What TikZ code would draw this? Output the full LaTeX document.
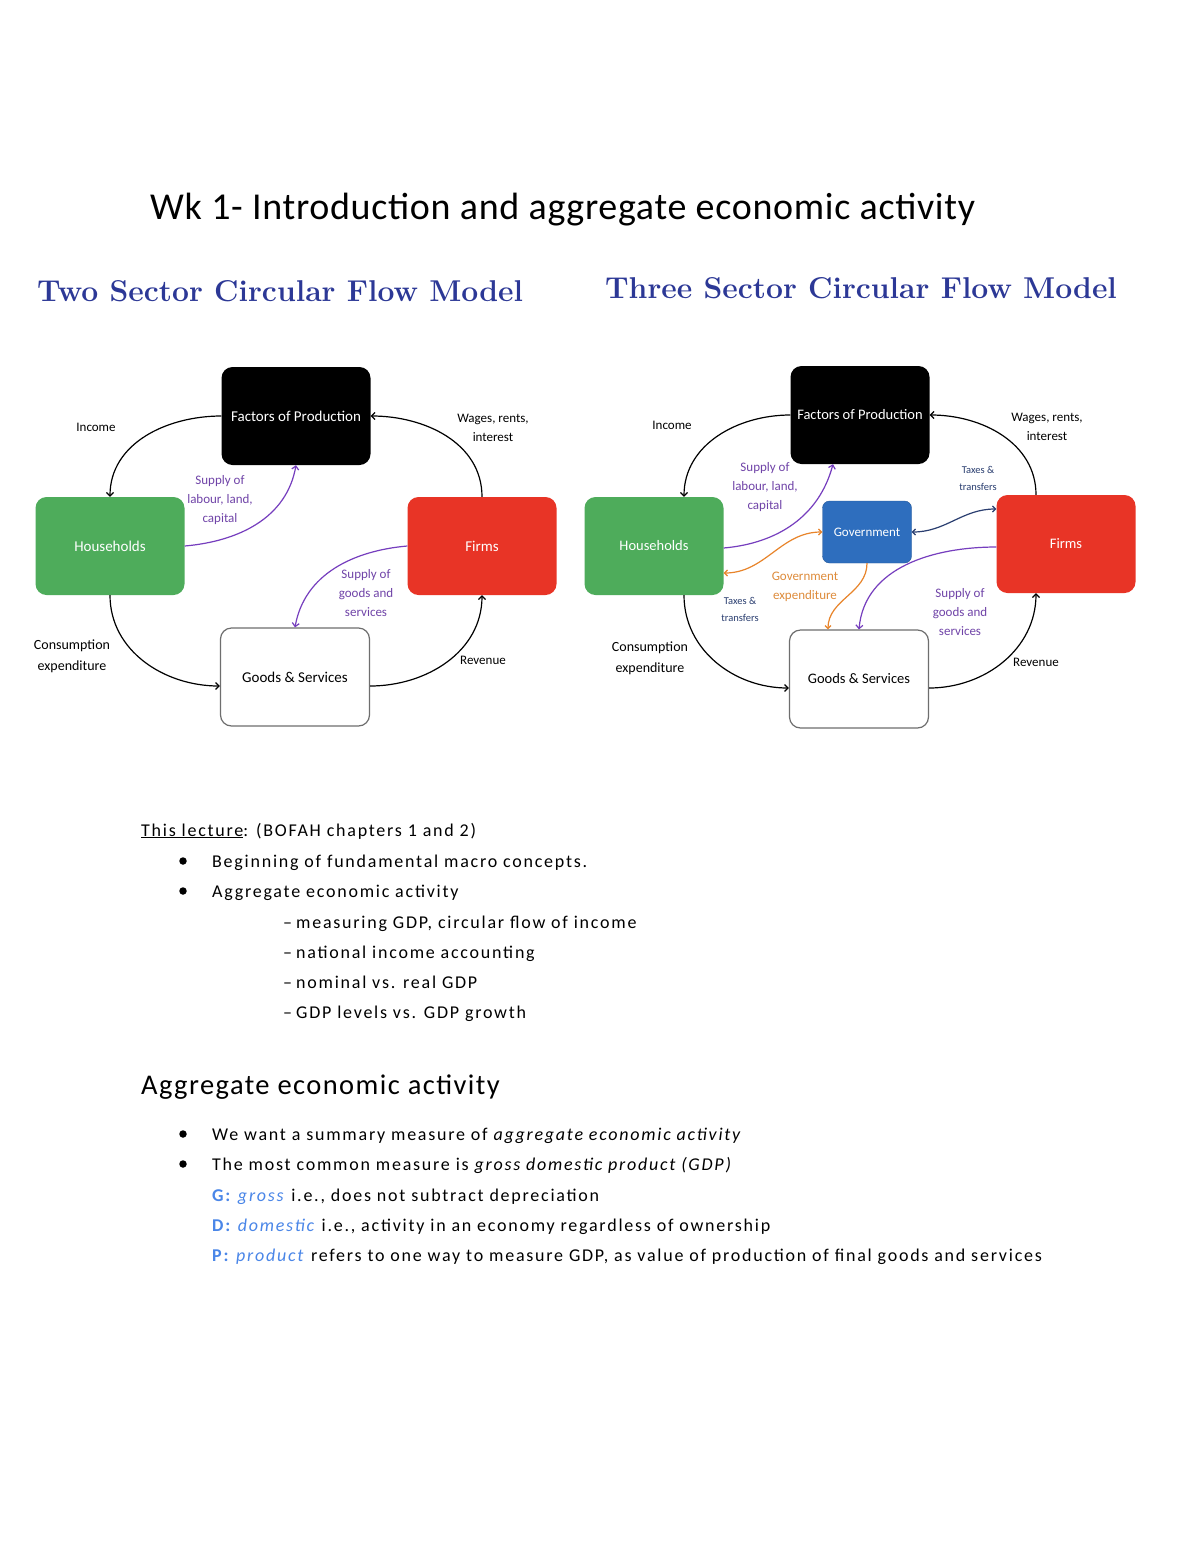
\documentclass[tikz,border=0pt]{standalone}
\usepackage{fontspec}
\setmainfont{Carlito}
\newfontfamily\lmfont{Latin Modern Roman}
\newfontfamily\bodyfont[LetterSpace=9.8]{Carlito}
\newfontfamily\headfont[LetterSpace=5]{Carlito}
\newfontfamily\titlefont[LetterSpace=1.8]{Carlito}
\usetikzlibrary{arrows.meta}
\definecolor{hhgreen}{RGB}{78,172,91}
\definecolor{firmred}{RGB}{232,52,38}
\definecolor{govblue}{RGB}{46,110,190}
\definecolor{flowpurple}{RGB}{118,62,190}
\definecolor{flowpurpletext}{RGB}{112,68,168}
\definecolor{floworange}{RGB}{232,132,42}
\definecolor{floworangetext}{RGB}{222,140,60}
\definecolor{flownavy}{RGB}{42,62,112}
\definecolor{titleblue}{RGB}{44,56,150}
\definecolor{gdpblue}{RGB}{74,134,232}
\definecolor{gsborder}{RGB}{110,110,110}
\begin{document}
\begin{tikzpicture}[x=1pt,y=-1pt,
  box/.style={rectangle, rounded corners=11pt, minimum width=149pt, minimum height=98pt, inner sep=0pt, text=white, font=\fontsize{15}{17}\selectfont},
  rbox/.style={box, minimum width=139pt, font=\fontsize{14.5}{17}\selectfont},
  lbl/.style={inner sep=0pt, align=center, font=\fontsize{13}{19}\selectfont},
  smlbl/.style={inner sep=0pt, align=center, font=\fontsize{10.5}{17}\selectfont, text=flownavy},
  tip/.style={-{Straight Barb[length=3.5pt,width=7pt]}},
  flow/.style={draw=black, line width=1.2pt, tip},
  pflow/.style={draw=flowpurple, line width=1.2pt, tip},
  oflow/.style={draw=floworange, line width=1.2pt},
  nflow/.style={draw=flownavy, line width=1.2pt},
  bodytext/.style={inner sep=0pt, anchor=base west, font=\bodyfont\fontsize{18}{20}\selectfont},
  bulletdot/.style={circle, fill=black, inner sep=0pt, minimum size=7.5pt},
  ctitle/.style={inner sep=0pt, anchor=base west, text=titleblue, font=\lmfont\bfseries\fontsize{30.1}{32}\selectfont}
]
\useasboundingbox[fill=white] (0,0) rectangle (1200,1553);

% Page title
\node[inner sep=0pt, anchor=base west, font=\titlefont\fontsize{38}{42}\selectfont] (pagetitle) at (150,219) {Wk 1- Introduction and aggregate economic activity};

% Diagram titles
\node[ctitle] (twotitle) at (37,301) {Two Sector Circular Flow Model};
\node[ctitle] (threetitle) at (605,298) {Three Sector Circular Flow Model};

% ---------------- Left diagram ----------------
\node[box, fill=black] (fp) at (296,416) {Factors of Production};
\node[box, fill=hhgreen] (hh) at (110,546) {Households};
\node[box, fill=firmred] (fi) at (482,546) {Firms};
\node[box, fill=white, draw=gsborder, line width=1.2pt, text=black] (gs) at (295,677) {Goods \& Services};

\draw[flow] (fp.west) to[out=180,in=90] (hh.north);
\draw[flow] (fi.north) to[out=90,in=0] (fp.east);
\draw[flow] (hh.south) to[out=-90,in=180] ([yshift=-9pt]gs.west);
\draw[flow] ([yshift=-9pt]gs.east) to[out=0,in=-90] (fi.south);
\draw[pflow] (hh.east) to[out=5,in=-100] (fp.south);
\draw[pflow] (fi.west) to[out=185,in=80] (gs.north);

\node[lbl] (l-income) at (96,427) {Income};
\node[lbl] (l-wages) at (493,428) {Wages, rents,\\interest};
\node[lbl, text=flowpurpletext] (l-suplab) at (220,500) {Supply of\\labour, land,\\capital};
\node[lbl, text=flowpurpletext] (l-supgood) at (366,593) {Supply of\\goods and\\services};
\node[lbl, font=\fontsize{14}{21}\selectfont] (l-cons) at (72,656) {Consumption\\expenditure};
\node[lbl] (l-rev) at (483,660) {Revenue};

% ---------------- Right diagram ----------------
\node[rbox, fill=black] (fp2) at (860,415) {Factors of Production};
\node[rbox, fill=hhgreen] (hh2) at (654,546) {Households};
\node[rbox, fill=firmred] (fi2) at (1066,544) {Firms};
\node[rbox, fill=white, draw=gsborder, line width=1.2pt, text=black] (gs2) at (859,679) {Goods \& Services};
\node[rectangle, rounded corners=7pt, minimum width=89pt, minimum height=62pt, inner sep=0pt, fill=govblue, draw=govblue!80!black, text=white, font=\fontsize{13}{15}\selectfont] (gov) at (867,532) {Government};

\draw[flow] (fp2.west) to[out=180,in=90] ([xshift=30pt]hh2.north);
\draw[flow] ([xshift=-30pt]fi2.north) to[out=90,in=0] (fp2.east);
\draw[flow] ([xshift=30pt]hh2.south) to[out=-90,in=180] ([yshift=-9pt]gs2.west);
\draw[flow] ([yshift=-9pt]gs2.east) to[out=0,in=-90] ([xshift=-30pt]fi2.south);
\draw[pflow] ([yshift=-2pt]hh2.east) to[out=5,in=-105] ([xshift=-27pt]fp2.south);
\draw[pflow] ([yshift=-3pt]fi2.west) to[out=180,in=85] (gs2.north);
\draw[oflow, {Straight Barb[length=3pt,width=6pt]}-{Straight Barb[length=3pt,width=6pt]}] ([yshift=-27pt]hh2.east) to[out=0,in=180] (gov.west);
\draw[nflow, {Straight Barb[length=3pt,width=6pt]}-{Straight Barb[length=3pt,width=6pt]}] (gov.east) to[out=0,in=180] ([yshift=35pt]fi2.west);
\draw[oflow, -{Straight Barb[length=3pt,width=6pt]}] (gov.south) to[out=-90,in=90] ([xshift=-31pt]gs2.north);

\node[lbl] (r-income) at (672,425) {Income};
\node[lbl] (r-wages) at (1047,427) {Wages, rents,\\interest};
\node[lbl, text=flowpurpletext] (r-suplab) at (765,487) {Supply of\\labour, land,\\capital};
\node[smlbl] (r-taxfirm) at (978,478) {Taxes \&\\transfers};
\node[smlbl] (r-taxhh) at (740,609) {Taxes \&\\transfers};
\node[lbl, text=floworangetext] (r-govexp) at (805,587) {Government\\expenditure};
\node[lbl, text=flowpurpletext] (r-supgood) at (960,612) {Supply of\\goods and\\services};
\node[lbl, font=\fontsize{14}{21}\selectfont] (r-cons) at (650,658) {Consumption\\expenditure};
\node[lbl] (r-rev) at (1036,662) {Revenue};

% ---------------- This lecture ----------------
\node[bodytext] (lect) at (141,836) {\underline{This lecture}: (BOFAH chapters 1 and 2)};
\node[bulletdot] (b1) at (183,861) {};
\node[bodytext] (t1) at (212,867) {Beginning of fundamental macro concepts.};
\node[bulletdot] (b2) at (183,891) {};
\node[bodytext] (t2) at (212,897) {Aggregate economic activity};
\node[bodytext] (d1) at (283,928) {–\hspace{4pt}measuring GDP, circular flow of income};
\node[bodytext] (d2) at (283,958) {–\hspace{4pt}national income accounting};
\node[bodytext] (d3) at (283,988) {–\hspace{4pt}nominal vs. real GDP};
\node[bodytext] (d4) at (283,1018) {–\hspace{4pt}GDP levels vs. GDP growth};

% ---------------- Aggregate economic activity ----------------
\node[inner sep=0pt, anchor=base west, font=\headfont\fontsize{28.5}{30}\selectfont] (aeahead) at (141,1094) {Aggregate economic activity};
\node[bulletdot] (b3) at (183,1134) {};
\node[bodytext] (t3) at (212,1140) {We want a summary measure of \textit{aggregate economic activity}};
\node[bulletdot] (b4) at (183,1164) {};
\node[bodytext] (t4) at (212,1170) {The most common measure is \textit{gross domestic product (GDP)}};
\node[bodytext] (g1) at (212,1201) {\textcolor{gdpblue}{\textbf{G:} \textit{gross}} i.e., does not subtract depreciation};
\node[bodytext] (g2) at (212,1231) {\textcolor{gdpblue}{\textbf{D:} \textit{domestic}} i.e., activity in an economy regardless of ownership};
\node[bodytext] (g3) at (212,1261) {\textcolor{gdpblue}{\textbf{P:} \textit{product}} refers to one way to measure GDP, as value of production of final goods and services};
\end{tikzpicture}
\end{document}
